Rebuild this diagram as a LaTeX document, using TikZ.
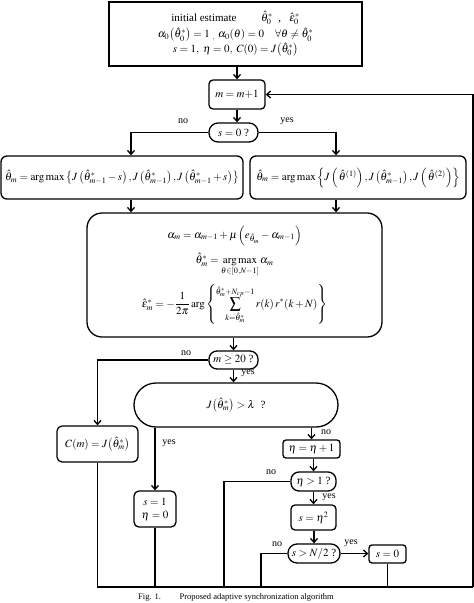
\documentclass[tikz,border=0pt]{standalone}
\usepackage{amsmath}
\usepackage{mathptmx}
\usepackage{fontspec}
\setmainfont{Liberation Serif}
\usetikzlibrary{arrows.meta}
\tikzset{
  box/.style={draw, line width=1.3pt, inner sep=0pt, align=center, font=\fontsize{11}{13}\selectfont},
  arr/.style={line width=1.3pt, -{Straight Barb[length=4pt,width=7pt,line width=1.3pt]}},
  ln/.style={line width=1.3pt},
  lbl/.style={font=\fontsize{10}{12}\selectfont, inner sep=0pt}
}
\begin{document}
\begin{tikzpicture}[x=1pt,y=-1pt]
\useasboundingbox (0,0) rectangle (474,603);
% nodes
\node[box, line width=1.8pt, minimum width=253pt, minimum height=64pt] (top) at (235.5,34)
 {initial estimate \qquad $\hat\theta_0^{*}$\ \ , \ \ $\hat\varepsilon_0^{*}$\\[2pt]
  $\alpha_0\big(\hat\theta_0^{*}\big)=1\ _{,}\ \alpha_0(\theta)=0\quad\forall\theta\neq\hat\theta_0^{*}$\\
  $s=1,\ \eta=0,\ C(0)=J\big(\hat\theta_0^{*}\big)$};
\node[box, rounded corners=4pt, minimum width=56pt, minimum height=29pt] (m) at (237,94.5) {$m=m{+}1$};
\node[box, rounded corners=9pt, minimum width=49pt, minimum height=19pt] (s0) at (233.5,132.5) {$s=0$ ?};
\node[box, rounded corners=6pt, minimum width=242pt, minimum height=43pt] (lb) at (122,177.5)
 {$\hat\theta_m=\arg\max\left\{J\left(\hat\theta^{*}_{m-1}-s\right), J\left(\hat\theta^{*}_{m-1}\right), J\left(\hat\theta^{*}_{m-1}+s\right)\right\}$};
\node[box, rounded corners=6pt, minimum width=216pt, minimum height=43pt] (rb) at (358,177.5)
 {$\hat\theta_m=\arg\max\left\{J\left(\,\hat\theta^{(1)}\right), J\left(\hat\theta^{*}_{m-1}\right), J\left(\,\hat\theta^{(2)}\right)\right\}$};
\node[box, rounded corners=15pt, minimum width=295pt, minimum height=124pt] (big) at (234.5,275)
 {$\alpha_m=\alpha_{m-1}+\mu\left(e_{\hat\theta_m}-\alpha_{m-1}\right)$\\[7pt]
  $\hat\theta^{*}_m=\displaystyle\mathop{\mathrm{arg\,max}}_{\theta\in[0,N-1]}\alpha_m$\\[7pt]
  $\hat\varepsilon^{*}_m=-\dfrac{1}{2\pi}\arg\left\{\displaystyle\sum_{k=\hat\theta^{*}_m}^{\hat\theta^{*}_m+N_{cp}-1} r(k)\,r^{*}(k+N)\right\}$};
\node[box, rounded corners=8pt, minimum width=49pt, minimum height=18pt] (m20) at (233.5,360) {$m\geq 20$ ?};
\node[box, rounded corners=22pt, minimum width=204pt, minimum height=44pt] (ov) at (236,405) {$J\big(\hat\theta^{*}_m\big)>\lambda$\ \ ?};
\node[box, rounded corners=5pt, minimum width=81pt, minimum height=36pt] (C) at (97.5,444) {$C(m)=J\big(\hat\theta^{*}_m\big)$};
\node[box, rounded corners=5pt, minimum width=42pt, minimum height=36pt] (s1) at (155,509) {$s=1$\\$\eta=0$};
\node[box, rounded corners=3pt, minimum width=57pt, minimum height=18pt] (e1) at (311.5,449) {$\eta=\eta+1$};
\node[box, rounded corners=8pt, minimum width=45pt, minimum height=19pt] (eg) at (313.5,481.5) {$\eta>1$ ?};
\node[box, rounded corners=4pt, minimum width=45pt, minimum height=25pt] (sq) at (313.5,517.5) {$s=\eta^{2}$};
\node[box, rounded corners=9pt, minimum width=52pt, minimum height=19pt] (sn) at (314,553.5) {$s>N/2$ ?};
\node[box, rounded corners=3pt, minimum width=37pt, minimum height=18pt] (sz) at (387.5,554) {$s=0$};
\coordinate (B) at (473,587);
% connectors
\draw[arr] (top.south -| m.north) -- (m.north);
\draw[arr] (m.south) -- (m.south |- s0.north);
\draw[arr] (s0.west) -| ([xshift=9pt]lb.north);
\draw[arr] (s0.east) -| ([xshift=-22pt]rb.north);
\draw[arr] ([xshift=9pt]lb.south) -- ([xshift=9pt]lb.south |- big.north);
\draw[arr] ([xshift=-22pt]rb.south) -- ([xshift=-22pt]rb.south |- big.north);
\draw[arr] (big.south -| m20.north) -- (m20.north);
\draw[arr] (m20.west) -| (C.north);
\draw[arr] (m20.south) -- (m20.south |- ov.north);
\draw[arr] (s1.north |- ov.south) -- (s1.north);
\draw[arr] (e1.north |- ov.south) -- (e1.north);
\draw[arr] (e1.south -| eg.north) -- (eg.north);
\draw[arr] (eg.south) -- (sq.north);
\draw[arr] (sq.south -| sn.north) -- (sn.north);
\draw[arr] (sn.east) -- (sn.east -| sz.west);
\draw[ln] (C.south) -- (C.south |- B) -- (B);
\draw[arr] (B) |- (m.east);
\draw[ln] (s1.south) -- (s1.south |- B);
\draw[ln] (eg.west) -| (224,587);
\draw[ln] (sn.west) -| (261,587);
\draw[ln] (sz.south) -- (sz.south |- B);
% labels
\node[lbl] (l1) at (183,121) {no};
\node[lbl] (l2) at (287,121) {yes};
\node[lbl] (l3) at (186,353) {no};
\node[lbl] (l4) at (248,373) {yes};
\node[lbl] (l5) at (169,443) {yes};
\node[lbl] (l6) at (326,432) {no};
\node[lbl] (l7) at (271,472) {no};
\node[lbl] (l8) at (329,497) {yes};
\node[lbl] (l9) at (277,544) {no};
\node[lbl] (l10) at (351,543) {yes};
\node[lbl, font=\fontsize{8.5}{10}\selectfont] (cap) at (236,597.5) {Fig. 1.\hspace{2.2em}Proposed adaptive synchronization algorithm};
\end{tikzpicture}
\end{document}
